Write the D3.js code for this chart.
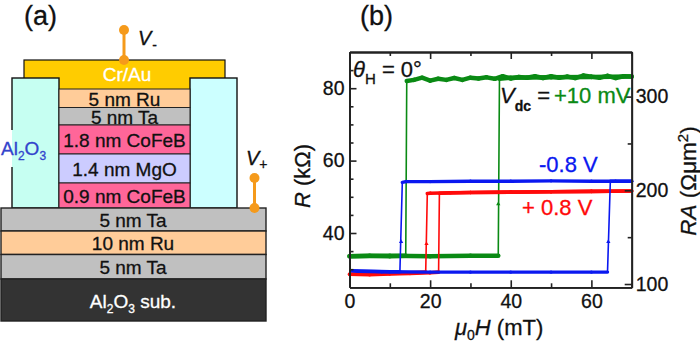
<!DOCTYPE html>
<html>
<head>
<meta charset="utf-8">
<script src="https://cdn.jsdelivr.net/npm/d3@7/dist/d3.min.js"></script>
<style>
body { margin: 0; background: #fff; }
text { font-family: "Liberation Sans", Arial, sans-serif; fill: #111; }
.domain { stroke: #222; }
</style>
</head>
<body>
<svg width="700" height="342"></svg>
<script>
// layers of the device, top to bottom
var stackLabels = ["5 nm Ru", "5 nm Ta", "1.8 nm CoFeB", "1.4 nm MgO", "0.9 nm CoFeB"];
var stackMaterials = ["Ru", "Ta", "CoFeB", "MgO", "CoFeB"];
var baseLabels = ["5 nm Ta", "10 nm Ru", "5 nm Ta", "sub"];
var baseMaterials = ["Ta", "Ru", "Ta", "sub"];

// R(H) loops, mT and kOhm
var greenH = [0, 10, 20, 30, 36.9, 37.2, 40, 50, 60, 70, 68, 66, 64, 62, 60, 58, 56, 54, 52, 50, 48, 46, 44, 42, 40, 38, 36, 34, 32, 30, 28, 26, 24, 22, 20, 18, 16, 14.2, 13.95, 10, 5, 0];
var greenR = [33.6, 33.7, 33.6, 33.7, 33.7, 82.6, 82.9, 83, 83.1, 83.2, 83.3, 82.8, 83.4, 82.9, 83.2, 83.5, 82.8, 83.2, 82.9, 83.3, 82.8, 83.3, 82.9, 83.1, 82.7, 83.3, 82.6, 83, 82.7, 82.9, 82.3, 82.8, 82.3, 82.6, 82.1, 82.9, 82.3, 82, 33.7, 33.6, 33.7, 33.6];
var redH = [0, 5, 10, 15, 20, 22.1, 22.3, 30, 40, 50, 60, 70, 60, 50, 40, 30, 25, 20, 19.3, 18.9, 12, 5, 0];
var redR = [28.6, 28.5, 28.7, 28.8, 29, 29.2, 51, 51.2, 51.3, 51.4, 51.5, 51.6, 51.5, 51.4, 51.3, 51.2, 51.1, 51, 50.9, 29.2, 28.9, 28.7, 28.6];
var blueH = [0.3, 10, 20, 30, 40, 50, 60, 64, 64.7, 66, 70, 60, 50, 40, 30, 20, 14, 13.1, 12.5, 8, 2, 0.3];
var blueR = [29.6, 29.3, 29.2, 29.2, 29.2, 29.2, 29.2, 29.2, 54.3, 54.3, 54.3, 54.3, 54.4, 54.3, 54.3, 54.2, 54.2, 54, 29.3, 29.3, 29.4, 29.6];

// small symbols left on the switching edges
var markerH = [36.9, 19.1, 12.8, 64.2];
var markerR = [48, 37, 37.6, 37.6];
var markerSeries = ["green", "red", "blue", "blue"];

var xMajor = [0, 20, 40, 60];
var xMinor = [10, 30, 50, 70];
var leftMajor = [40, 60, 80];
var leftMinor = [30, 35, 45, 50, 55, 65, 70, 75, 85];
var rightMajor = [100, 200, 300];
var rightMinor = [150, 250];

var svg = d3.select("svg");

var materialColor = d3.scaleOrdinal()
	.domain(["Ru", "Ta", "CoFeB", "MgO", "sub"])
	.range(["#ffcc99", "#c0c0c0", "#ff6699", "#ccccff", "#333333"]);

var stackY = d3.scaleLinear().domain(d3.range(6)).range([89, 107.5, 125, 154, 183, 208]);
var baseY = d3.scaleLinear().domain(d3.range(5)).range([208, 231, 254.5, 279, 321]);

// ---- panel (a) ----
var a = svg.append("g");

a.append("text").attr("x", 24).attr("y", 25).style("font-size", "27px").text("(a)");

a.append("rect").attr("x", 24).attr("y", 60).attr("width", 201).attr("height", 35)
	.attr("fill", "#ffcc00").attr("stroke", "#111").attr("stroke-width", 1.2);

a.append("rect").attr("x", 12).attr("y", 78).attr("width", 47).attr("height", 130)
	.attr("fill", "#c6fff2").attr("stroke", "#111").attr("stroke-width", 1.4);
a.append("rect").attr("x", 190).attr("y", 78).attr("width", 47).attr("height", 130)
	.attr("fill", "#ccffff").attr("stroke", "#111").attr("stroke-width", 1.4);
// label sits on the left wall and hides its border
a.append("rect").attr("x", 10).attr("y", 130).attr("width", 4).attr("height", 37).attr("fill", "#fff");
a.append("rect").attr("x", 12).attr("y", 130).attr("width", 3).attr("height", 37).attr("fill", "#c6fff2");

a.selectAll(".stack")
	.data(stackLabels)
	.enter()
	.append("rect")
		.attr("x", 59)
		.attr("width", 131)
		.attr("y", function (d, i) { return stackY(i); })
		.attr("height", function (d, i) { return stackY(i + 1) - stackY(i); })
		.attr("fill", function (d, i) { return materialColor(stackMaterials[i]); })
		.attr("stroke", "#222")
		.attr("stroke-width", 1);

a.selectAll(".stackText")
	.data(stackLabels)
	.enter()
	.append("text")
		.attr("x", 124.5)
		.attr("y", function (d, i) { return (stackY(i) + stackY(i + 1)) / 2; })
		.attr("dy", ".4em")
		.attr("text-anchor", "middle")
		.style("font-size", "19px")
		.text(function (d) { return d; });

a.selectAll(".base")
	.data(baseLabels)
	.enter()
	.append("rect")
		.attr("x", 1)
		.attr("width", 265)
		.attr("y", function (d, i) { return baseY(i); })
		.attr("height", function (d, i) { return baseY(i + 1) - baseY(i); })
		.attr("fill", function (d, i) { return materialColor(baseMaterials[i]); })
		.attr("stroke", "#222")
		.attr("stroke-width", 1.4);

a.selectAll(".baseText")
	.data(baseLabels.slice(0, 3))
	.enter()
	.append("text")
		.attr("x", 133)
		.attr("y", function (d, i) { return (baseY(i) + baseY(i + 1)) / 2; })
		.attr("dy", ".38em")
		.attr("text-anchor", "middle")
		.style("font-size", "19px")
		.text(function (d) { return d; });

var sub = a.append("text").attr("x", 133).attr("y", 307.5).attr("text-anchor", "middle")
	.style("font-size", "19px").style("fill", "#fff");
sub.append("tspan").text("Al");
sub.append("tspan").attr("dy", 5).style("font-size", "12px").text("2");
sub.append("tspan").attr("dy", -5).text("O");
sub.append("tspan").attr("dy", 5).style("font-size", "12px").text("3");
sub.append("tspan").attr("dy", -5).text(" sub.");

a.append("text").attr("x", 127).attr("y", 81).attr("text-anchor", "middle")
	.style("font-size", "19px").style("fill", "#fff").text("Cr/Au");

var alumina = a.append("text").attr("x", 1).attr("y", 155)
	.style("font-size", "19px").style("fill", "#3344cc");
alumina.append("tspan").text("Al");
alumina.append("tspan").attr("dy", 5).style("font-size", "12px").text("2");
alumina.append("tspan").attr("dy", -5).text("O");
alumina.append("tspan").attr("dy", 5).style("font-size", "12px").text("3");

// voltage probes
var probes = [[124, 30, 60], [254.5, 178, 208]];
probes.forEach(function (p) {
	a.append("line").attr("x1", p[0]).attr("x2", p[0]).attr("y1", p[1]).attr("y2", p[2])
		.attr("stroke", "#f59a1b").attr("stroke-width", 3);
	a.append("circle").attr("cx", p[0]).attr("cy", p[1]).attr("r", 5).attr("fill", "#f59a1b");
	a.append("circle").attr("cx", p[0]).attr("cy", p[2]).attr("r", 5).attr("fill", "#f59a1b");
});

var vm = a.append("text").attr("x", 138).attr("y", 45).style("font-size", "20px");
vm.append("tspan").style("font-style", "italic").text("V");
vm.append("tspan").attr("dy", 5).attr("dx", 1).style("font-size", "14px").text("-");
var vp = a.append("text").attr("x", 246).attr("y", 165).style("font-size", "20px");
vp.append("tspan").style("font-style", "italic").text("V");
vp.append("tspan").attr("dy", 4).style("font-size", "14px").text("+");

// ---- panel (b) ----
var x = d3.scaleLinear().domain([0, 70]).range([349.5, 631.7]);
var yLeft = d3.scaleLinear().domain([25, 90]).range([287.3, 52]);
var yRight = d3.scaleLinear().domain([96.5, 347.6]).range([287.3, 52]);

svg.append("text").attr("x", 360).attr("y", 25).style("font-size", "27px").text("(b)");

function drawLoop(h, r, color, thick) {
	var pts = d3.zip(h, r);
	svg.append("g").selectAll("line")
		.data(d3.pairs(pts))
		.enter()
		.append("line")
			.attr("x1", function (d) { return x(d[0][0]); })
			.attr("y1", function (d) { return yLeft(d[0][1]); })
			.attr("x2", function (d) { return x(d[1][0]); })
			.attr("y2", function (d) { return yLeft(d[1][1]); })
			.attr("stroke", color)
			.attr("stroke-linecap", "round")
			.attr("stroke-width", function (d) {
				return Math.abs(d[0][1] - d[1][1]) > 5 ? 1.6 : thick;
			});
}

drawLoop(greenH, greenR, "#0a8a14", 4.5);
drawLoop(redH, redR, "#ff0a0a", 3.6);
drawLoop(blueH, blueR, "#0a18f0", 3.4);

var markerColor = d3.scaleOrdinal().domain(["green", "red", "blue"]).range(["#0a8a14", "#ff0a0a", "#0a18f0"]);
svg.append("g").selectAll("path")
	.data(markerH)
	.enter()
	.append("path")
		.attr("d", d3.symbol().type(d3.symbolTriangle).size(8))
		.attr("transform", function (d, i) { return "translate(" + x(d) + "," + yLeft(markerR[i]) + ")"; })
		.attr("fill", function (d, i) { return markerColor(markerSeries[i]); });

function styleAxis(g) {
	g.selectAll("text").style("font-size", "19.5px");
	g.selectAll("line").attr("stroke", "#222").attr("stroke-width", 1.6);
	g.select(".domain").attr("stroke-width", 1.8);
}

// major ticks with labels, minor ticks on top without
function addAxis(axisFn, scale, major, minor, pos, padding, withLabels) {
	var g = svg.append("g").attr("transform", "translate(" + pos[0] + "," + pos[1] + ")");
	var ax = axisFn(scale).tickValues(major).tickSizeOuter(0).tickSizeInner(-7).tickPadding(padding)
		.tickFormat(withLabels ? d3.format("d") : "");
	g.call(ax);
	styleAxis(g);
	var m = svg.append("g").attr("transform", "translate(" + pos[0] + "," + pos[1] + ")");
	m.call(axisFn(scale).tickValues(minor).tickSizeOuter(0).tickSizeInner(-4).tickFormat(""));
	styleAxis(m);
}

addAxis(d3.axisBottom, x, xMajor, xMinor, [0, 287.3], 7, true);
addAxis(d3.axisTop, x, xMajor, xMinor, [0, 52], 3, false);
addAxis(d3.axisLeft, yLeft, leftMajor, leftMinor, [349.5, 0], 5, true);
addAxis(d3.axisRight, yRight, rightMajor, rightMinor, [631.7, 0], 4, true);

// axis titles
var xt = svg.append("text").attr("x", 455).attr("y", 335).style("font-size", "22px");
xt.append("tspan").style("font-style", "italic").text("μ");
xt.append("tspan").attr("dy", 5).style("font-size", "14px").text("0");
xt.append("tspan").attr("dy", -5).style("font-style", "italic").text("H");
xt.append("tspan").text(" (mT)");

var yl = svg.append("text").attr("transform", "translate(310,176) rotate(-90)")
	.attr("text-anchor", "middle").style("font-size", "22px");
yl.append("tspan").style("font-style", "italic").text("R");
yl.append("tspan").text(" (kΩ)");

var yr = svg.append("text").attr("transform", "translate(696,181) rotate(-90)")
	.attr("text-anchor", "middle").style("font-size", "22.5px");
yr.append("tspan").style("font-style", "italic").text("RA");
yr.append("tspan").text(" (Ωμm");
yr.append("tspan").attr("dy", -8).style("font-size", "15px").text("2");
yr.append("tspan").attr("dy", 8).text(")");

// annotations
var theta = svg.append("text").attr("x", 353).attr("y", 77).style("font-size", "22px");
theta.append("tspan").style("font-style", "italic").text("θ");
theta.append("tspan").attr("dy", 7).style("font-size", "15px").text("H");
theta.append("tspan").attr("dy", -7).text(" = 0°");

var vdc = svg.append("text").attr("x", 500).attr("y", 103).style("font-size", "22px");
vdc.append("tspan").style("font-style", "italic").text("V");
vdc.append("tspan").attr("dy", 8).style("font-size", "14px").style("font-weight", "bold").text("dc");
vdc.append("tspan").attr("dy", -8).text(" =");
vdc.append("tspan").attr("dx", 4).style("fill", "#0a8a14").text("+10 mV");

svg.append("text").attr("x", 539).attr("y", 172).style("font-size", "22px")
	.style("fill", "#0a18f0").text("-0.8 V");
svg.append("text").attr("x", 522).attr("y", 215).style("font-size", "22px")
	.style("fill", "#ff0a0a").text("+ 0.8 V");

// the reference type reads a little heavier than the plain font
svg.selectAll("text, tspan").each(function () {
	var el = d3.select(this);
	el.style("stroke", getComputedStyle(this).fill).style("stroke-width", 0.3);
});
</script>
</body>
</html>
